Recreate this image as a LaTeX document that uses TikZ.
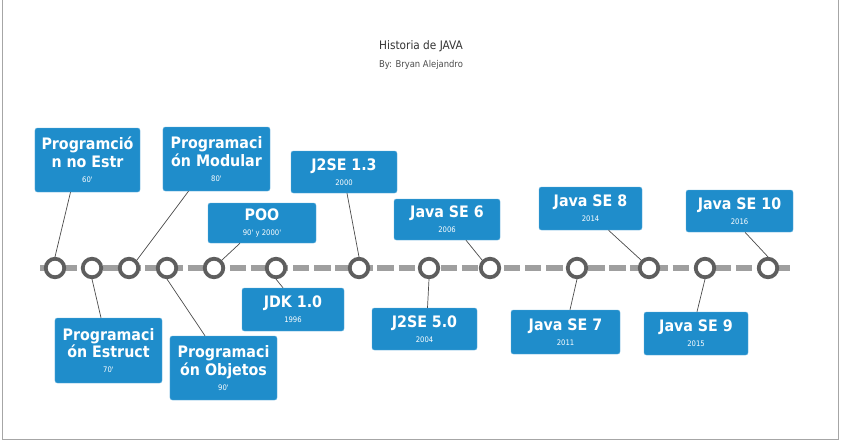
\documentclass[tikz,border=0pt]{standalone}
\usepackage{fontspec}
\setmainfont{DejaVu Sans}
\newfontfamily\cond{DejaVu Sans Condensed}
\newcommand\evtitlefont{\cond\bfseries\fontsize{13.5}{15}\selectfont}
\newcommand\evyearfont{\cond\mdseries\fontsize{6.5}{7}\selectfont}
\begin{document}
\begin{tikzpicture}[x=0.03cm,y=-0.03cm,
  evbox/.style={fill=boxblue,draw=boxblue!70!white,rounded corners=2pt,text=white,align=center,inner sep=0pt,font=\evtitlefont},
  ring/.style={circle,draw=ringgray,line width=3.2pt,fill=white,minimum size=0.555cm,inner sep=0pt},
  conn/.style={draw=ringgray!80!black,line width=0.6pt},
]
\definecolor{boxblue}{HTML}{1F8DCB}
\definecolor{ringgray}{HTML}{5E5E5E}
\useasboundingbox (0,0) rectangle (841,441);
\draw[gray!70,line width=0.8pt] (2,-2) -- (2,439) -- (838,439) -- (838,-2);
\node[font=\cond\fontsize{10}{12}\selectfont,text=black!80] (t1) at (421,46) {Historia de JAVA};
\node[font=\cond\fontsize{8}{10}\selectfont,text=black!70] (t2) at (421,65) {By: Bryan Alejandro};
\draw[gray!75,line width=5pt,dash pattern=on 14pt off 4pt] (40,268) -- (790,268);
\foreach \n/\x in {1/55,2/92,3/129,4/167,5/214,6/276,7/359,8/429,9/490,10/577,11/649,12/705,13/768}
  \node[ring] (c\n) at (\x,268) {};
\node[evbox,minimum width=3.15cm,minimum height=1.92cm] (b1) at (87.5,160) {Programció\\n no Estr\\[-2pt]\evyearfont 60'};
\node[evbox,minimum width=3.21cm,minimum height=1.95cm] (b2) at (108.5,350.5) {Programaci\\ón Estruct\\[-2pt]\evyearfont 70'};
\node[evbox,minimum width=3.21cm,minimum height=1.92cm] (b3) at (216.5,159) {Programaci\\ón Modular\\[-2pt]\evyearfont 80'};
\node[evbox,minimum width=3.21cm,minimum height=1.92cm] (b4) at (223.5,368) {Programaci\\ón Objetos\\[-2pt]\evyearfont 90'};
\node[evbox,minimum width=3.24cm,minimum height=1.2cm] (b5) at (262,223) {POO\\[-2pt]\evyearfont 90' y 2000'};
\node[evbox,minimum width=3.06cm,minimum height=1.29cm] (b6) at (293,309.5) {JDK 1.0\\[-2pt]\evyearfont 1996};
\node[evbox,minimum width=3.18cm,minimum height=1.26cm] (b7) at (344,172) {J2SE 1.3\\[-2pt]\evyearfont 2000};
\node[evbox,minimum width=3.18cm,minimum height=1.23cm] (b8) at (447,219.5) {Java SE 6\\[-2pt]\evyearfont 2006};
\node[evbox,minimum width=3.15cm,minimum height=1.26cm] (b9) at (424.5,329) {J2SE 5.0\\[-2pt]\evyearfont 2004};
\node[evbox,minimum width=3.27cm,minimum height=1.32cm] (b10) at (565.5,332) {Java SE 7\\[-2pt]\evyearfont 2011};
\node[evbox,minimum width=3.09cm,minimum height=1.29cm] (b11) at (590.5,208.5) {Java SE 8\\[-2pt]\evyearfont 2014};
\node[evbox,minimum width=3.12cm,minimum height=1.29cm] (b12) at (696,333.5) {Java SE 9\\[-2pt]\evyearfont 2015};
\node[evbox,minimum width=3.21cm,minimum height=1.26cm] (b13) at (739.5,211) {Java SE 10\\[-2pt]\evyearfont 2016};
\draw[conn] ([xshift=-0.51cm]b1.south) -- (c1.north);
\draw[conn] (c2.south) -- ([xshift=-0.225cm]b2.north);
\draw[conn] ([xshift=-0.84cm]b3.south) -- (c3.north east);
\draw[conn] (c4.south) -- ([xshift=-0.555cm]b4.north);
\draw[conn] ([xshift=-0.66cm]b5.south) -- (c5.north east);
\draw[conn] (c6.south) -- ([xshift=-0.3cm]b6.north);
\draw[conn] ([xshift=0.09cm]b7.south) -- (c7.north);
\draw[conn] ([xshift=0.57cm]b8.south) -- (c9.north west);
\draw[conn] (c8.south) -- ([xshift=0.09cm]b9.north);
\draw[conn] (c10.south) -- ([xshift=0.135cm]b10.north);
\draw[conn] ([xshift=0.54cm]b11.south) -- (c11.north west);
\draw[conn] (c12.south) -- ([xshift=0.03cm]b12.north);
\draw[conn] ([xshift=0.165cm]b13.south) -- (c13.north);
\end{tikzpicture}
\end{document}
